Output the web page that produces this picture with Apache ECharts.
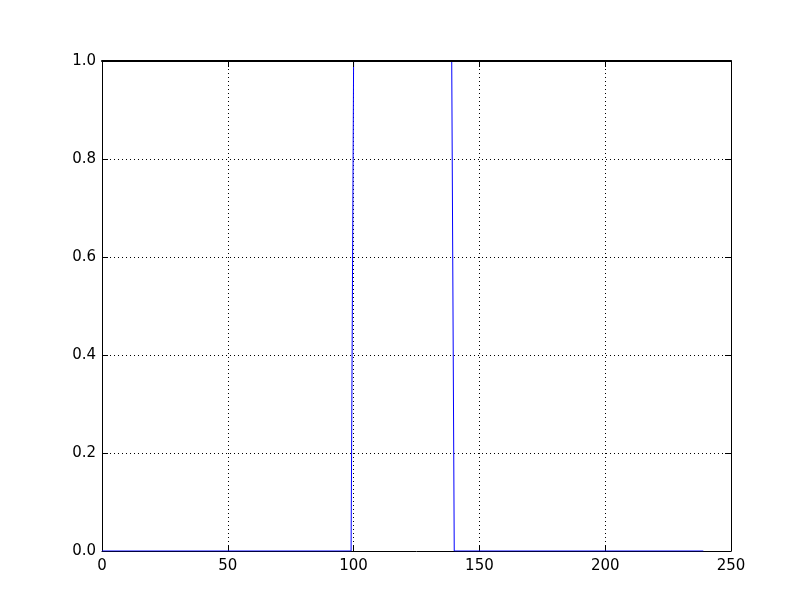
<!DOCTYPE html>
<html>
<head>
<meta charset="utf-8">
<script src="https://cdn.jsdelivr.net/npm/echarts@6/dist/echarts.min.js"></script>
<style>
html,body{margin:0;padding:0;background:#fff;}
#c{width:812px;height:612px;}
</style>
</head>
<body>
<div id="c"></div>
<script>
var xValues = [0, 99, 100, 139, 140, 239];
var yValues = [0, 0, 1, 1, 0, 0];
var xTicks = [0, 50, 100, 150, 200, 250];
var yTicks = [0.0, 0.2, 0.4, 0.6, 0.8, 1.0];

var data = xValues.map(function (x, i) { return [x, yValues[i]]; });
var font = 'DejaVu Sans';
var chart = echarts.init(document.getElementById('c'), null, {renderer: 'canvas'});
var axisLine = {show: true, onZero: false, lineStyle: {color: '#000', width: 1}};
var tick = {show: true, inside: true, length: 6, lineStyle: {color: '#000', width: 1}};
chart.setOption({
  animation: false,
  backgroundColor: '#fff',
  grid: {left: 102, right: 81, top: 61, bottom: 61, containLabel: false},
  xAxis: [{
    type: 'value', min: xTicks[0], max: xTicks[xTicks.length - 1], interval: 50,
    axisLine: axisLine, axisTick: tick,
    axisLabel: {color: '#000', fontFamily: font, fontSize: 15, margin: 8},
    splitLine: {show: true, lineStyle: {color: '#000', type: [1, 3], width: 1}}
  }, {
    type: 'value', position: 'top', z: 5, min: xTicks[0], max: xTicks[xTicks.length - 1], interval: 50,
    axisLine: {show: true, onZero: false, lineStyle: {color: '#000', width: 2}},
    axisTick: tick, axisLabel: {show: false}, splitLine: {show: false}
  }],
  yAxis: [{
    type: 'value', min: yTicks[0], max: yTicks[yTicks.length - 1], interval: 0.2,
    axisLine: axisLine, axisTick: tick,
    axisLabel: {color: '#000', fontFamily: font, fontSize: 15, margin: 6,
      formatter: function (v) { return v.toFixed(1); }},
    splitLine: {show: true, lineStyle: {color: '#000', type: [1, 3], width: 1}}
  }, {
    type: 'value', position: 'right', min: yTicks[0], max: yTicks[yTicks.length - 1], interval: 0.2,
    axisLine: axisLine, axisTick: tick, axisLabel: {show: false}, splitLine: {show: false}
  }],
  series: [{
    type: 'line', data: data, showSymbol: false, symbol: 'none', z: 2,
    lineStyle: {color: '#0000ff', width: 1}, clip: true
  }]
});
</script>
</body>
</html>
